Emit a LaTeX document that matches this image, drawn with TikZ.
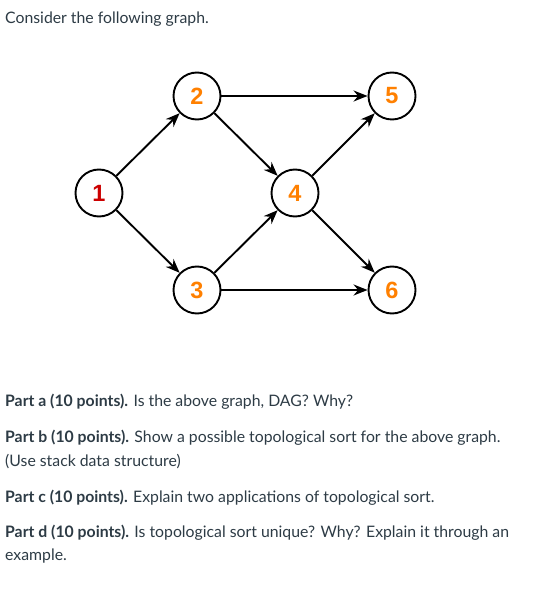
\documentclass[tikz,border=0pt]{standalone}
\usepackage{fontspec}
\setmainfont{Lato}
\newfontfamily\labelfont{Liberation Sans}
\usetikzlibrary{arrows.meta}
\definecolor{txt}{HTML}{2D3B45}
\definecolor{lblorange}{HTML}{FF8000}
\definecolor{lblred}{HTML}{CC0000}
\tikzset{
  vtx/.style={circle,draw=black,line width=1.9pt,minimum size=47pt,inner sep=0pt,font=\labelfont\bfseries\fontsize{23.5}{23.5}\selectfont,text=lblorange,fill=white},
  edge/.style={line width=1.9pt,-{Stealth[length=14pt,width=11pt]}},
  para/.style={anchor=base west,inner sep=0pt,text=txt,font=\fontsize{15.8}{15.8}\selectfont}
}
\begin{document}
\begin{tikzpicture}[x=1pt,y=-1pt]
\useasboundingbox (0,0) rectangle (543,593);
\node[para] (t0) at (5,24) {Consider the following graph.};
\node[vtx,text=lblred] (n1) at (99,193) {1};
\node[vtx] (n2) at (197,96) {2};
\node[vtx] (n3) at (197,290) {3};
\node[vtx] (n4) at (295,193) {4};
\node[vtx] (n5) at (392,96) {5};
\node[vtx] (n6) at (392,290) {6};
\draw[edge] (n1) -- (n2);
\draw[edge] (n1) -- (n3);
\draw[edge] (n2) -- (n5);
\draw[edge] (n2) -- (n4);
\draw[edge] (n3) -- (n4);
\draw[edge] (n3) -- (n6);
\draw[edge] (n4) -- (n5);
\draw[edge] (n4) -- (n6);
\node[para] (pa) at (5,406) {\textbf{Part a (10 points).} Is the above graph, DAG? Why?};
\node[para] (pb) at (5,442) {\textbf{Part b (10 points).} Show a possible topological sort for the above graph.};
\node[para] (pb2) at (5,466) {(Use stack data structure)};
\node[para] (pc) at (5,502) {\textbf{Part c (10 points).} Explain two applications of topological sort.};
\node[para] (pd) at (5,537) {\textbf{Part d (10 points).} Is topological sort unique? Why? Explain it through an};
\node[para] (pd2) at (5,560) {example.};
\end{tikzpicture}
\end{document}
